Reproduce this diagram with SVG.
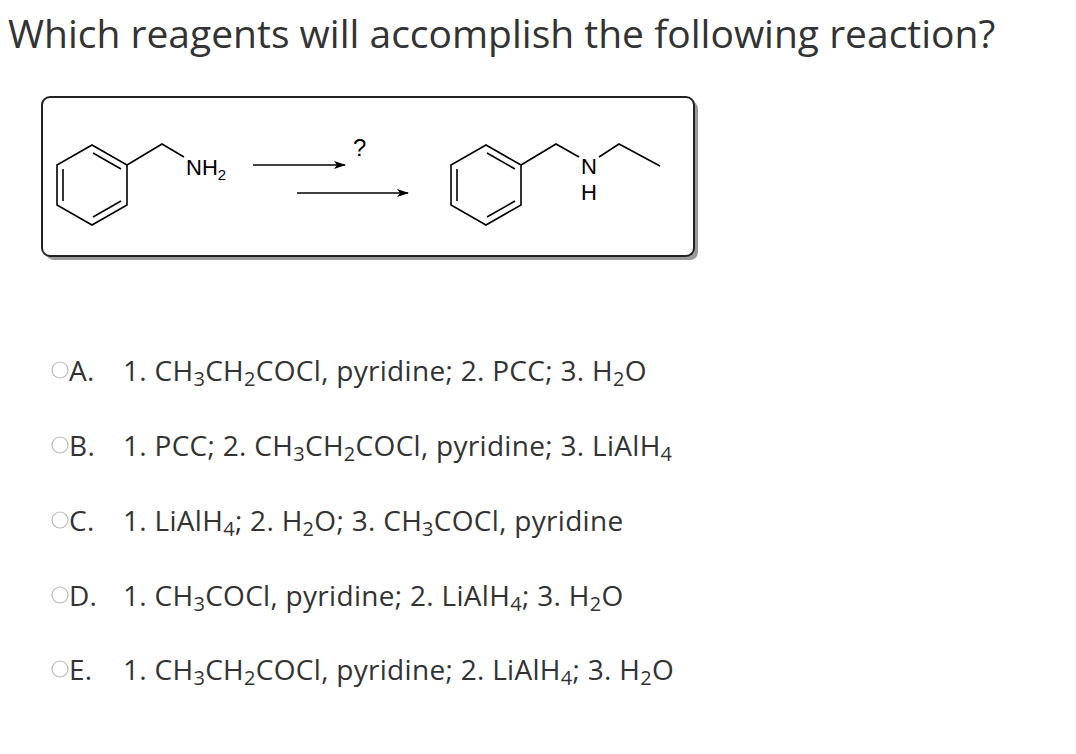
<svg xmlns="http://www.w3.org/2000/svg" width="1076" height="754" viewBox="0 0 1076 754">
<style>
.t{font-family:"Open Sans",Lato,sans-serif;fill:#333}
.o{font-size:28px;letter-spacing:0.3px}
.c{font-family:"Liberation Sans",Arial,sans-serif;fill:#000}
.b{stroke:#000;stroke-width:1.6;fill:none}
.r{fill:#fff;stroke:#bbb;stroke-width:1.2}
</style>
<defs><marker id="ah" markerWidth="12" markerHeight="8" refX="11" refY="4" orient="auto" markerUnits="userSpaceOnUse"><path d="M0,0 L12,4 L0,8 L3,4Z" fill="#000"/></marker></defs>
<rect width="1076" height="754" fill="#fff"/>
<text class="t" x="8" y="48" font-size="39">Which reagents will accomplish the following reaction?</text>
<rect x="46" y="101" width="652" height="159" rx="8" fill="#999"/>
<rect x="42" y="97" width="652" height="159" rx="8" fill="#fff" stroke="#222" stroke-width="2"/>
<g class="b">
<polygon points="92,145 127,165 127,205 92,225 57,205 57,165"/>
<line x1="63" y1="169" x2="63" y2="201"/><line x1="93" y1="153" x2="121" y2="169"/><line x1="93" y1="217" x2="121" y2="201"/>
<polyline points="127,165 162,144 184,157"/>
<polygon points="486,145 521,165 521,205 486,225 451,205 451,165"/>
<line x1="457" y1="169" x2="457" y2="201"/><line x1="487" y1="153" x2="515" y2="169"/><line x1="487" y1="217" x2="515" y2="201"/>
<polyline points="521,165 556,144 579,157"/>
<polyline points="599,157 619,144 660,166"/>
<line x1="253" y1="165" x2="345" y2="165" marker-end="url(#ah)"/>
<line x1="297" y1="193" x2="408" y2="193" marker-end="url(#ah)"/>
</g>
<text class="c" x="186" y="175" font-size="22">NH<tspan font-size="15" dy="5">2</tspan></text>
<text class="c" x="353" y="156" font-size="24">?</text>
<text class="c" x="581" y="174" font-size="22">N</text>
<text class="c" x="581" y="200" font-size="22">H</text>
<g>
<circle class="r" cx="60" cy="370" r="8"/><circle class="r" cx="60" cy="445" r="8"/><circle class="r" cx="60" cy="520" r="8"/><circle class="r" cx="60" cy="595" r="8"/><circle class="r" cx="60" cy="669" r="8"/>
</g>
<g class="t o">
<text x="69" y="381">A.</text><text x="123" y="381">1. CH<tspan font-size="20" dy="5">3</tspan><tspan dy="-5">CH</tspan><tspan font-size="20" dy="5">2</tspan><tspan dy="-5">COCl, pyridine; 2. PCC; 3. H</tspan><tspan font-size="20" dy="5">2</tspan><tspan dy="-5">O</tspan></text>
<text x="69" y="456">B.</text><text x="123" y="456">1. PCC; 2. CH<tspan font-size="20" dy="5">3</tspan><tspan dy="-5">CH</tspan><tspan font-size="20" dy="5">2</tspan><tspan dy="-5">COCl, pyridine; 3. LiAlH</tspan><tspan font-size="20" dy="5">4</tspan></text>
<text x="69" y="531">C.</text><text x="123" y="531">1. LiAlH<tspan font-size="20" dy="5">4</tspan><tspan dy="-5">; 2. H</tspan><tspan font-size="20" dy="5">2</tspan><tspan dy="-5">O; 3. CH</tspan><tspan font-size="20" dy="5">3</tspan><tspan dy="-5">COCl, pyridine</tspan></text>
<text x="69" y="606">D.</text><text x="123" y="606">1. CH<tspan font-size="20" dy="5">3</tspan><tspan dy="-5">COCl, pyridine; 2. LiAlH</tspan><tspan font-size="20" dy="5">4</tspan><tspan dy="-5">; 3. H</tspan><tspan font-size="20" dy="5">2</tspan><tspan dy="-5">O</tspan></text>
<text x="69" y="680">E.</text><text x="123" y="680">1. CH<tspan font-size="20" dy="5">3</tspan><tspan dy="-5">CH</tspan><tspan font-size="20" dy="5">2</tspan><tspan dy="-5">COCl, pyridine; 2. LiAlH</tspan><tspan font-size="20" dy="5">4</tspan><tspan dy="-5">; 3. H</tspan><tspan font-size="20" dy="5">2</tspan><tspan dy="-5">O</tspan></text>
</g>
</svg>
